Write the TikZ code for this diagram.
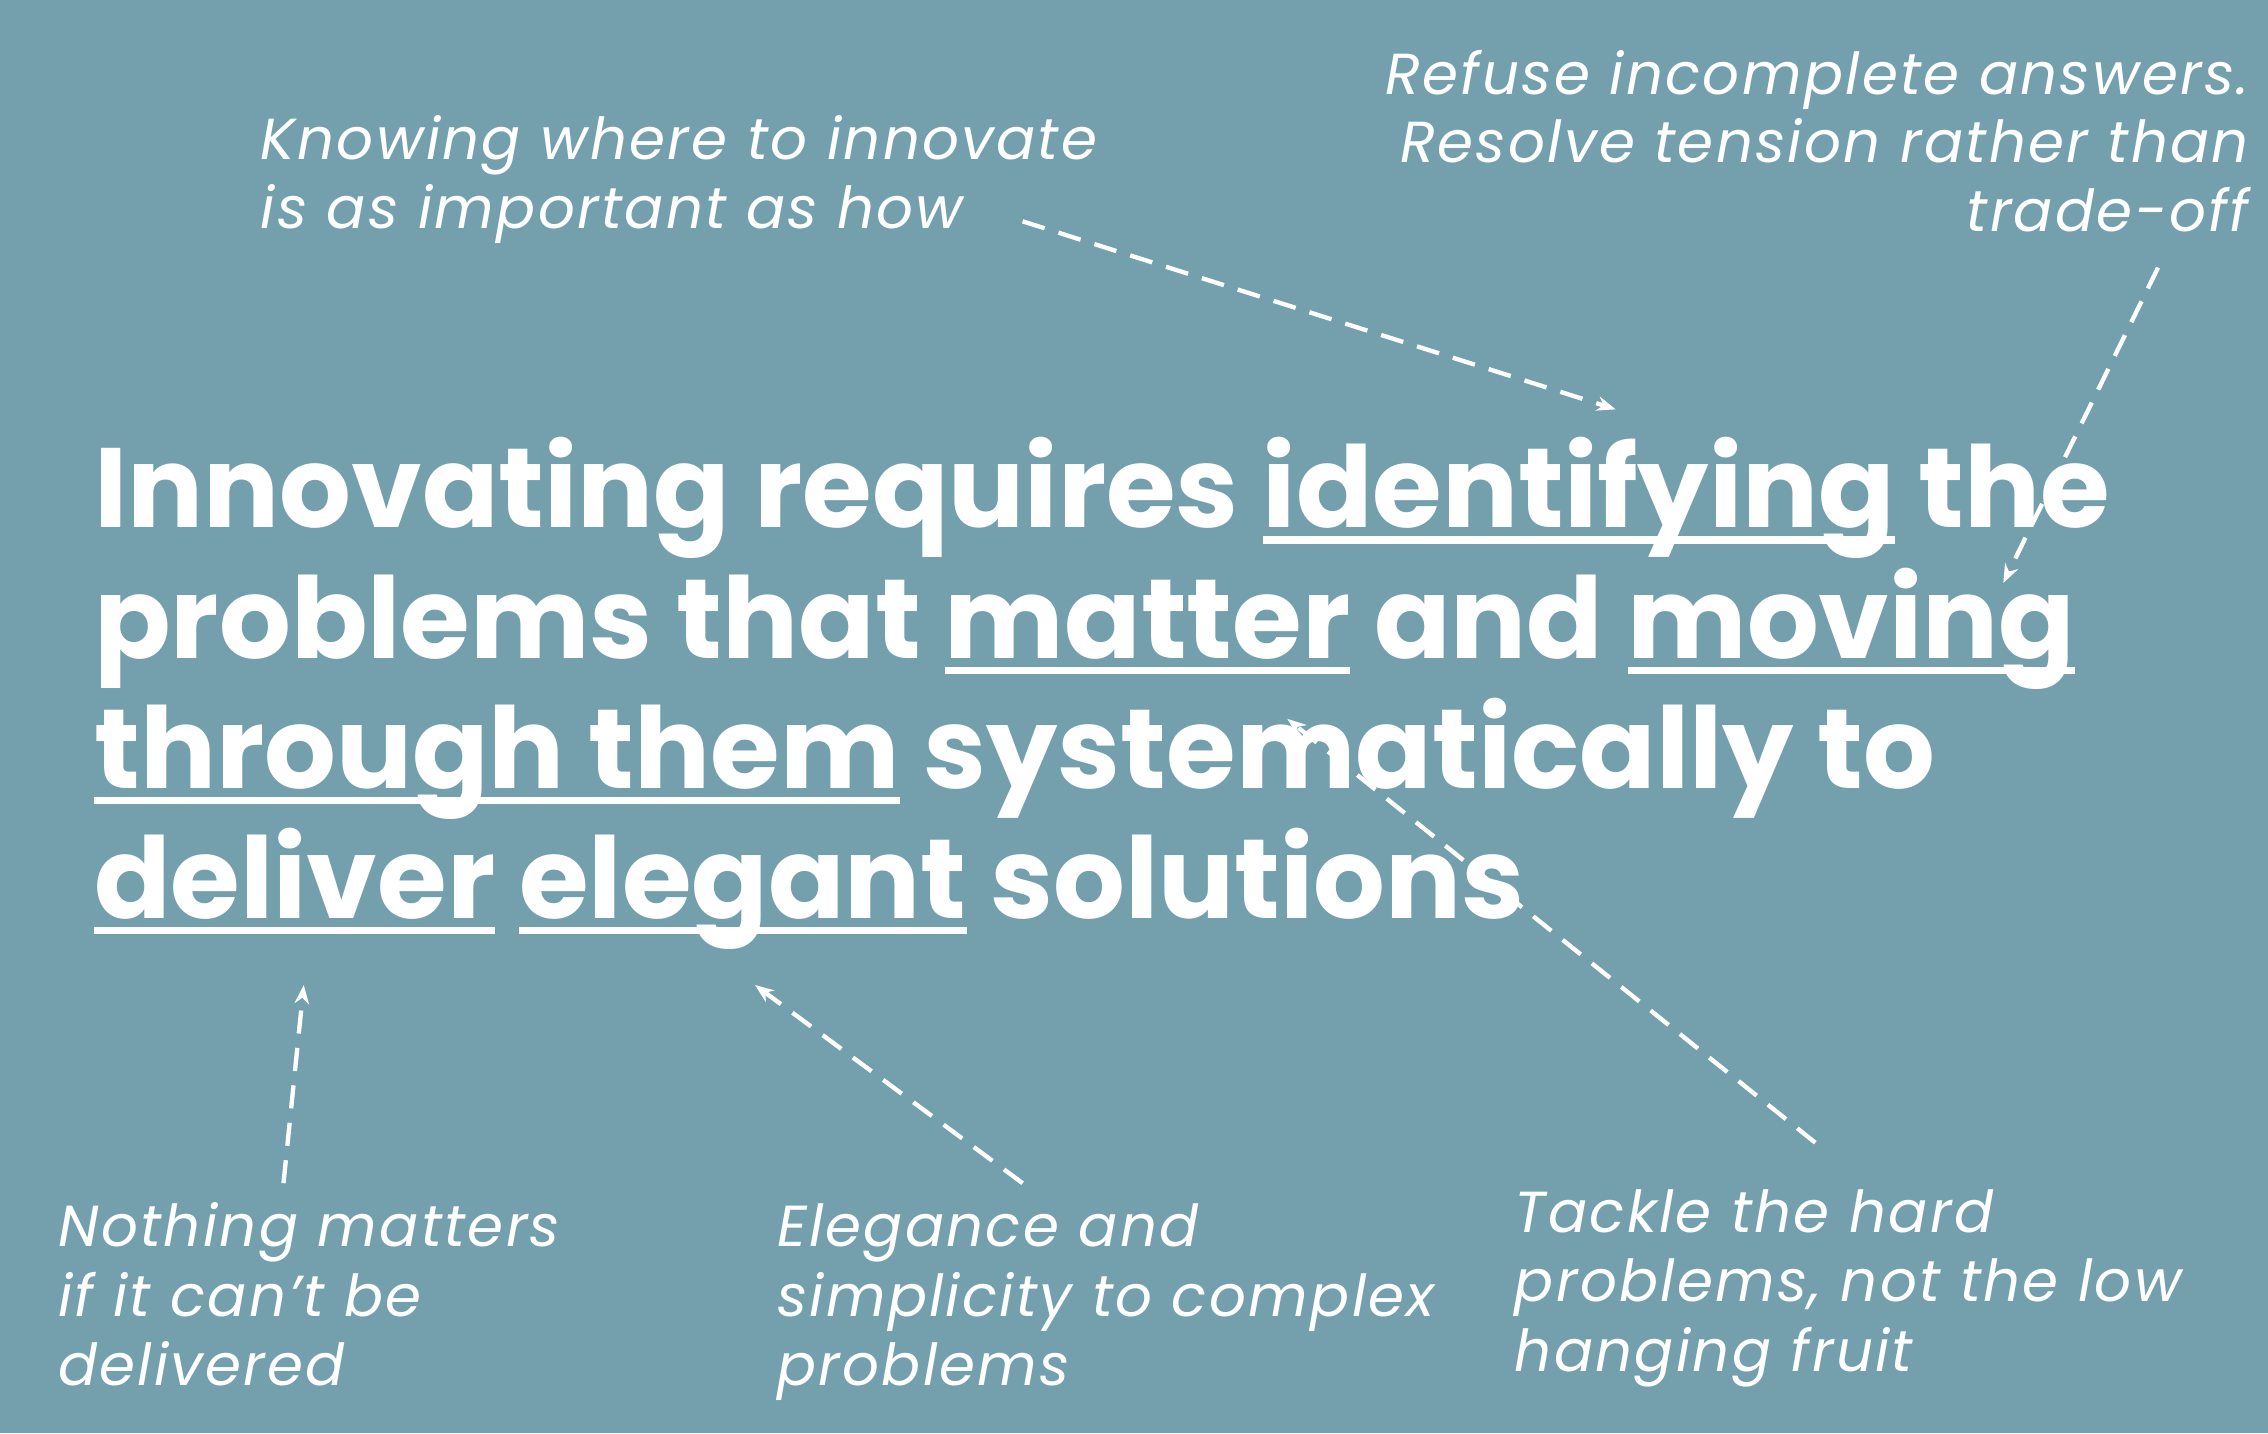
\documentclass[tikz,border=0pt]{standalone}
\usepackage{fontspec}
\setmainfont{Poppins}
\usetikzlibrary{arrows.meta}
\definecolor{bg}{HTML}{74A0AE}
\newcommand\myul[1]{\setbox0\hbox{#1}\rlap{\rule[-0.14em]{\wd0}{0.065em}}\box0\relax}
\tikzset{
 mainline/.style={anchor=base west,inner sep=0,text=white,font=\fontsize{78}{86}\selectfont\bfseries},
 note/.style={anchor=base west,inner sep=0,text=white,font=\fontsize{40}{48}\selectfont\itshape\addfontfeatures{LetterSpace=4}},
 notearrow/.style={white,line width=3pt,dash pattern=on 16pt off 10pt,-{Stealth[length=13pt,width=10pt]}}
}
\begin{document}
\begin{tikzpicture}[x=1pt,y=-1pt]
\fill[bg] (0,0) rectangle (1568,991);
\useasboundingbox (0,0) rectangle (1568,991);
\node[mainline] (l1) at (65,365) {Innovating requires \myul{identifying} the};
\node[mainline] (l2) at (65,455) {problems that \myul{matter} and \myul{moving}};
\node[mainline] (l3) at (65,545) {\myul{through them} systematically to};
\node[mainline] (l4) at (65,635) {\myul{deliver} \myul{elegant} solutions};
\node[note] (n1) at (180,110) {Knowing where to innovate};
\node[note] (n1b) at (180,158) {is as important as how};
\node[note,anchor=base east] (n2) at (1555,65) {Refuse incomplete answers.};
\node[note,anchor=base east] (n2b) at (1555,112) {Resolve tension rather than};
\node[note,anchor=base east] (n2c) at (1555,160) {trade-off};
\node[note] (n3) at (40,862) {Nothing matters};
\node[note] (n3b) at (40,910) {if it can’t be};
\node[note] (n3c) at (40,958) {delivered};
\node[note] (n4) at (537,862) {Elegance and};
\node[note] (n4b) at (537,910) {simplicity to complex};
\node[note] (n4c) at (537,958) {problems};
\node[note] (n5) at (1047,852) {Tackle the hard};
\node[note] (n5b) at (1047,900) {problems, not the low};
\node[note] (n5c) at (1047,948) {hanging fruit};
\coordinate (s1) at (707,153); \coordinate (e1) at (1117,283);
\coordinate (s2) at (1492,185); \coordinate (e2) at (1385,403);
\coordinate (s3) at (1255,790); \coordinate (e3) at (890,497);
\coordinate (s4) at (707,818); \coordinate (e4) at (522,681);
\coordinate (s5) at (196,818); \coordinate (e5) at (210,681);
\draw[notearrow] (s1) -- (e1);
\draw[notearrow] (s2) -- (e2);
\draw[notearrow] (s3) -- (e3);
\draw[notearrow] (s4) -- (e4);
\draw[notearrow] (s5) -- (e5);
\end{tikzpicture}
\end{document}
